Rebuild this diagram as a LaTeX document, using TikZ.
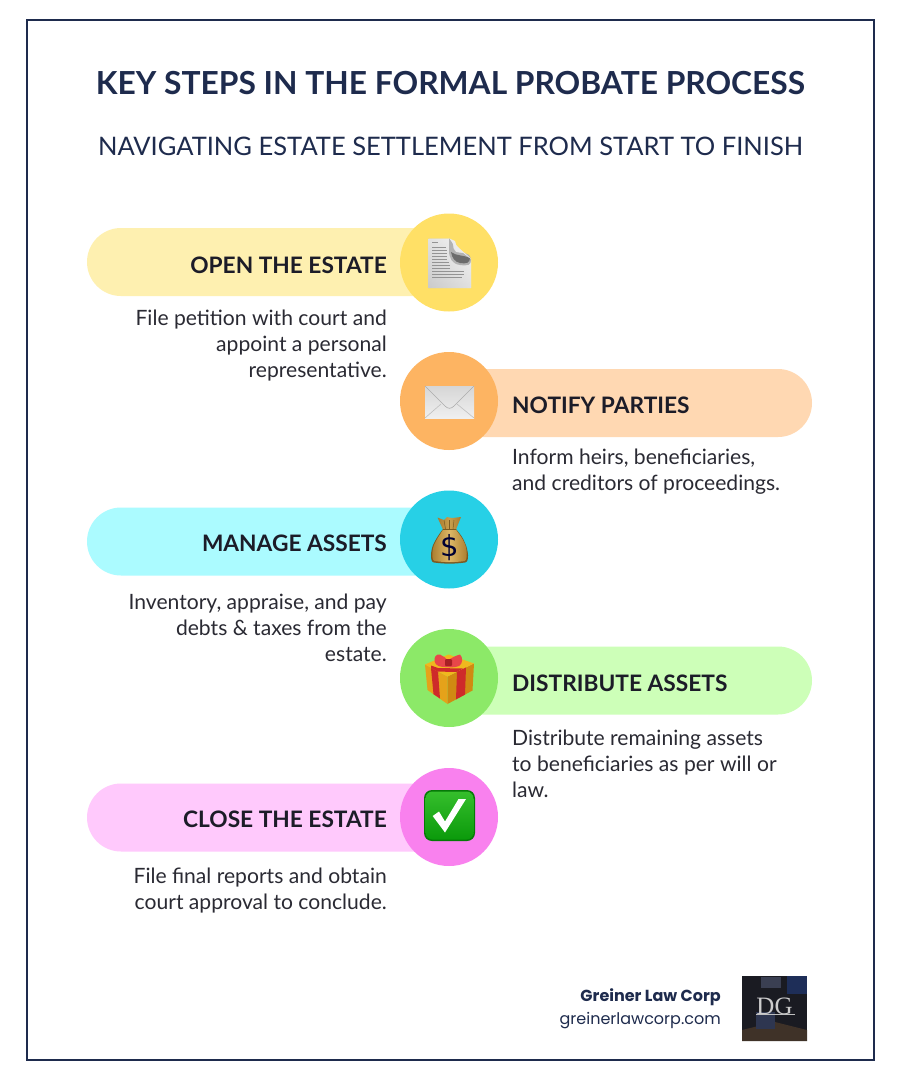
\documentclass[tikz,border=0pt]{standalone}
\usepackage{fontspec}
\setmainfont{Lato}
\newfontfamily\popp{Poppins}
\newfontfamily\djv{DejaVu Sans}
\newfontfamily\lserif{Liberation Serif}
\usetikzlibrary{calc}
\definecolor{navy}{HTML}{1E2B4D}
\definecolor{ink}{HTML}{1C1C28}
\definecolor{descink}{HTML}{2A2A33}
\definecolor{pa}{HTML}{FEF0B0}\definecolor{ca}{HTML}{FFE066}
\definecolor{pb}{HTML}{FFD8B2}\definecolor{cb}{HTML}{FDB462}
\definecolor{pc}{HTML}{ABFBFF}\definecolor{cc}{HTML}{27D0E6}
\definecolor{pd}{HTML}{CDFFB8}\definecolor{cd}{HTML}{8CE968}
\definecolor{pe}{HTML}{FFC9FC}\definecolor{ce}{HTML}{F981EE}
\definecolor{baga}{HTML}{C79F4E}\definecolor{bagb}{HTML}{DDB765}\definecolor{bagc}{HTML}{A97C2E}\definecolor{bagd}{HTML}{7A5A22}
\definecolor{boxa}{HTML}{E5A21A}\definecolor{boxb}{HTML}{D08A12}\definecolor{boxc}{HTML}{F0B81E}
\definecolor{ribb}{HTML}{CE2A2A}\definecolor{bow}{HTML}{E8474A}\definecolor{bowd}{HTML}{A82024}
\definecolor{chka}{HTML}{35BE2C}\definecolor{chkb}{HTML}{0B9A0B}\definecolor{chkc}{HTML}{067A08}
\definecolor{lgbase}{HTML}{1A1B22}\definecolor{lgblue}{HTML}{1E2E58}\definecolor{lgwin}{HTML}{3A3F52}\definecolor{lgfloor}{HTML}{3F3228}\definecolor{lgchair}{HTML}{2E3650}
\tikzset{
  x=1pt,y=-1pt,
  frame/.style={draw=navy,line width=2pt,fill=white},
  pillbar/.style={draw=none,rounded corners=34pt},
  disc/.style={circle,draw=none,minimum size=98pt,inner sep=0pt},
  head/.style={inner sep=0pt,text=ink,font=\fontsize{22.7}{26}\selectfont\bfseries},
  descr/.style={inner sep=0pt,text=descink,font=\fontsize{21.1}{26}\selectfont},
}
\begin{document}
\begin{tikzpicture}
\useasboundingbox (0,0) rectangle (900,1080);
\fill[white] (0,0) rectangle (900,1080);
\draw[frame] (27,20) rectangle (874,1060);
\node[inner sep=0pt,text=navy,font=\fontsize{31.75}{34}\selectfont\bfseries] (title) at (450.5,83) {KEY STEPS IN THE FORMAL PROBATE PROCESS};
\node[inner sep=0pt,text=navy,font=\fontsize{25.5}{30}\selectfont] (subtitle) at (450.5,146) {NAVIGATING ESTATE SETTLEMENT FROM START TO FINISH};
% step bars
\fill[pa,pillbar] (87,228) rectangle (470,296);
\fill[pb,pillbar] (430,369) rectangle (812,437);
\fill[pc,pillbar] (87,507.5) rectangle (470,575.5);
\fill[pd,pillbar] (430,646.5) rectangle (812,714.5);
\fill[pe,pillbar] (87,783.5) rectangle (470,851.5);
% discs
\node[disc,fill=ca] (d1) at (449,262.5) {};
\node[disc,fill=cb] (d2) at (449,401) {};
\node[disc,fill=cc] (d3) at (449,539.5) {};
\node[disc,fill=cd] (d4) at (449,678) {};
\node[disc,fill=ce] (d5) at (449,817) {};
% headings
\node[head,anchor=east] (h1) at (387,265) {OPEN THE ESTATE};
\node[head,anchor=west] (h2) at (512,405) {NOTIFY PARTIES};
\node[head,anchor=east] (h3) at (387,543) {MANAGE ASSETS};
\node[head,anchor=west] (h4) at (512,683) {DISTRIBUTE ASSETS};
\node[head,anchor=east] (h5) at (387,819) {CLOSE THE ESTATE};
% descriptions
\node[descr,anchor=north east,align=right] (t1) at (387,310) {File petition with court and\\appoint a personal\\representative.};
\node[descr,anchor=north west,align=left] (t2) at (512,449) {Inform heirs, beneficiaries,\\and creditors of proceedings.};
\node[descr,anchor=north east,align=right] (t3) at (387,594) {Inventory, appraise, and pay\\debts \& taxes from the\\estate.};
\node[descr,anchor=north west,align=left] (t4) at (512,730) {Distribute remaining assets\\to beneficiaries as per will or\\law.};
\node[descr,anchor=north east,align=right] (t5) at (387,868) {File final reports and obtain\\court approval to conclude.};
% document icon
\shade[left color=gray!50,right color=gray!8] (428.5,238.5) -- (449.5,238.5) -- (471,260) -- (471,288) -- (428.5,288) -- cycle;
\shade[top color=gray!5,bottom color=gray!35,opacity=.6] (428.5,238.5) -- (449.5,238.5) -- (471,260) -- (471,288) -- (428.5,288) -- cycle;
\foreach \yy/\xx in {242/438,247/446,250/447,253/447,256/447,259/447,262/449,265/450,268/450,271/464,274/464,277/462}
  \draw[gray!85,line width=.45pt] (432,\yy) -- (\xx,\yy);
\fill[gray!60] (449,238.5) .. controls (455,239) and (451,249) .. (456,252) .. controls (460,254) and (470,250) .. (471,260) .. controls (471,265) and (468,266) .. (460,265) .. controls (452,264) and (449,258) .. (449,250) -- cycle;
\fill[gray!40!black,opacity=.55] (451,252) .. controls (456,256) and (464,255) .. (470,258) .. controls (470,263) and (466,264) .. (460,263) .. controls (455,262) and (452,258) .. (451,252) -- cycle;
\fill[gray!15] (449.5,238.5) .. controls (454,246) and (458,249) .. (471,259) .. controls (463,250) and (455,248) .. (455,241) -- cycle;
% envelope icon
\shade[top color=gray!32,bottom color=gray!12] (425,386) rectangle (474,418.5);
\draw[gray!50,line width=.6pt] (425,418) -- (441,404);
\draw[gray!50,line width=.6pt] (474,418) -- (457,404);
\draw[gray!65,line width=.6pt] (425,386) -- (445,406) .. controls (448,409) and (451,409) .. (454,406) -- (474,386);
% money bag icon
\fill[bagd] (434,562.5) .. controls (429,562) and (431,548) .. (434,543) .. controls (437,537) and (440,533) .. (443,529) -- (456,529) .. controls (459,533) and (463,537) .. (465,543) .. controls (468,549) and (470,562) .. (465,562.5) .. controls (455,564) and (444,564) .. (434,562.5) -- cycle;
\shade[left color=bagc,right color=bagc,middle color=bagb] (434.5,561) .. controls (431,560) and (432,548) .. (435,543) .. controls (438,537) and (441,533) .. (443.5,529) -- (455.5,529) .. controls (458,533) and (462,537) .. (464.5,543) .. controls (467,548) and (468,560) .. (464.5,561) .. controls (455,562.5) and (445,562.5) .. (434.5,561) -- cycle;
\shade[left color=bagc,right color=bagc,middle color=baga] (437.5,517.5) -- (444,520) -- (447,517) -- (452,518) -- (461,517) -- (456,529.5) -- (443,529.5) -- cycle;
\draw[bagd,line width=.5pt] (443,529.5) -- (456,529.5);
\foreach \xa/\xb in {444/445.5,449/449,454/453}
  \draw[bagd,line width=.5pt] (\xa,520) -- (\xb,529);
\node[inner sep=0pt,text=black!80!blue,font=\fontsize{29}{29}\selectfont\djv] (dollar) at (449.5,548) {\$};
% gift icon
\fill[boxa] (425,664.5) -- (447.5,676.5) -- (447.5,704) -- (427.5,690) -- cycle;
\fill[boxb] (447.5,676.5) -- (474,663.5) -- (472.5,690.5) -- (447.5,704) -- cycle;
\fill[boxc] (425,664.5) -- (448.5,654.5) -- (474,663.5) -- (447.5,676.5) -- cycle;
\fill[ribb] (431,668) -- (438,671.7) -- (440,698.5) -- (433.5,694.2) -- cycle;
\fill[ribb] (457,671.8) -- (466,667.4) -- (465,694.6) -- (456,699.4) -- cycle;
\fill[ribb] (431,665.5) -- (438,668) -- (463,668.5) -- (457,671.8) -- (438,671.7) -- (431,668) -- cycle;
\fill[bow] (447,667) .. controls (441,667.5) and (435,666) .. (434.5,661) .. controls (434,657) and (436,654) .. (440,654.5) .. controls (443,656) and (446,658) .. (448,660.5) .. controls (451,658) and (456,655.5) .. (460,654.5) .. controls (463,657) and (463,664) .. (459,666) .. controls (455,667.5) and (451,667.5) .. (447,667) -- cycle;
\fill[bowd,rounded corners=1pt] (445,659) rectangle (452,666);
% check icon
\fill[chkc,rounded corners=8pt] (424,790) rectangle (475,841);
\shade[top color=chka,bottom color=chkb,rounded corners=7pt] (425.5,791.5) rectangle (473.5,839.5);
\fill[white] (432.7,816) -- (439,811.5) -- (445,821.5) -- (458.5,799) -- (466,799) -- (445,832.5) -- cycle;
% footer
\node[inner sep=0pt,anchor=east,text=navy,font=\fontsize{16}{18}\selectfont\popp\bfseries] (brand) at (721,997) {Greiner Law Corp};
\node[inner sep=0pt,anchor=east,text=navy,font=\fontsize{16}{18}\selectfont\popp] (site) at (721,1021) {greinerlawcorp.com};
% logo
\fill[lgbase] (742,976) rectangle (807,1041);
\fill[lgblue] (787,976) rectangle (807,994);
\fill[lgwin] (761,977) rectangle (781,988);
\fill[lgfloor] (742,1030) -- (775,1022) -- (807,1030) -- (807,1041) -- (742,1041) -- cycle;
\fill[lgchair] (756,1012) rectangle (775,1029);
\node[inner sep=0pt,text=gray!40,font=\fontsize{25}{25}\selectfont\lserif] (logo) at (774.5,1006) {DG};
\draw[gray!50,line width=.5pt] (756,1014) -- (795,1014);
\end{tikzpicture}
\end{document}
